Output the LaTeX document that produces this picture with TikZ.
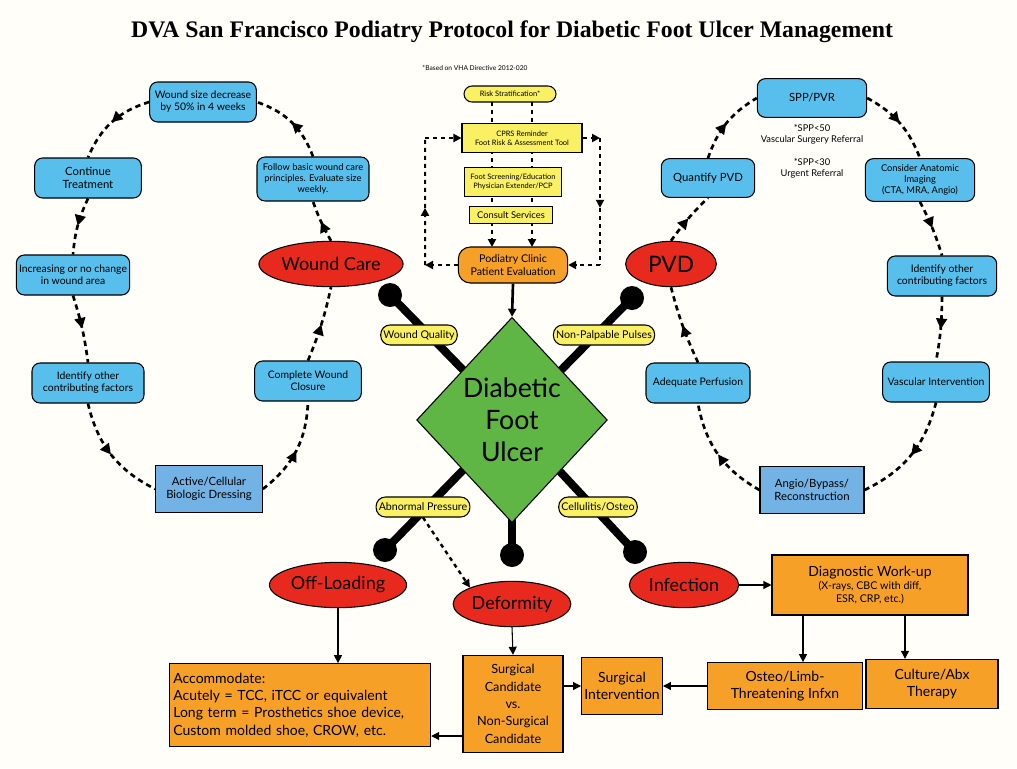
\documentclass[tikz,border=0pt]{standalone}
\usepackage{fontspec}
\setmainfont{Lato}
\newfontfamily\ttl{Liberation Serif}
\usetikzlibrary{shapes.geometric,arrows.meta,decorations.markings,calc}
\definecolor{bg}{RGB}{255,254,248}
\definecolor{sky}{RGB}{88,190,235}
\definecolor{sky2}{RGB}{115,178,228}
\definecolor{yel}{RGB}{250,240,100}
\definecolor{org}{RGB}{247,160,40}
\definecolor{rd}{RGB}{232,42,30}
\definecolor{grn}{RGB}{96,182,68}
\begin{document}
\begin{tikzpicture}[x=0.75pt,y=-0.75pt,
 blue/.style={draw,thick,fill=sky,rounded corners=6pt,align=center,font=\fontsize{7.8}{9}\selectfont,inner sep=2pt},
 bluer/.style={draw,thick,fill=sky2,align=center,font=\fontsize{8.5}{10}\selectfont,inner sep=2pt},
 yb/.style={draw,thick,fill=yel,align=center,font=\fontsize{5.6}{7}\selectfont,inner sep=1.5pt},
 ylab/.style={draw,thick,fill=yel,rounded corners=7pt,font=\fontsize{8}{9}\selectfont,minimum height=15pt,inner sep=2pt},
 redel/.style={draw,thick,fill=rd,ellipse,font=\fontsize{13.5}{15}\selectfont,minimum height=34pt,inner sep=1pt},
 ob/.style={draw,thick,fill=org,align=center,font=\fontsize{10.5}{13}\selectfont,inner sep=2pt},
 darr/.style={line width=2pt,dash pattern=on 4pt off 3pt,decoration={markings,mark=at position 0.5 with {\arrow[solid]{Triangle[length=8pt,width=8pt]}}},postaction={decorate}},
 sarr/.style={thick,-{Triangle[length=6pt,width=6pt]}},
 lol/.style={line width=6pt},
 dl/.style={line width=1.5pt,dash pattern=on 3pt off 3pt},
 dla/.style={dl,-{Triangle[length=6pt,width=6pt]}}]
\fill[bg] (0,0) rectangle (1017,768);
\useasboundingbox (0,0) rectangle (1017,768);
\node[font=\ttl\bfseries\fontsize{17.8}{20}\selectfont] (title) at (512,32) {DVA San Francisco Podiatry Protocol for Diabetic Foot Ulcer Management};
\node[font=\fontsize{5}{6}\selectfont] (vha) at (475,68) {*Based on VHA Directive 2012-020};
% top flow
\coordinate (a1) at (492,102); \coordinate (a2) at (492,247);
\coordinate (b1) at (532,102); \coordinate (b2) at (532,247);
\draw[dla] (a1) -- (a2);
\draw[dla] (b1) -- (b2);
\node[yb,rounded corners=6pt,minimum width=69pt,minimum height=12pt] (risk) at (510,94) {Risk Stratification*};
\node[yb,minimum width=90pt,minimum height=22pt] (cprs) at (522,138) {CPRS Reminder\\Foot Risk \& Assessment Tool};
\node[yb,minimum width=73pt,minimum height=22pt] (fs) at (513,182) {Foot Screening/Education\\Physician Extender/PCP};
\node[yb,minimum width=62pt,minimum height=13pt,font=\fontsize{7}{8}\selectfont] (cons) at (511,215) {Consult Services};
\node[draw,thick,fill=org,rounded corners=9pt,minimum width=82pt,minimum height=27pt,align=center,font=\fontsize{8}{9.5}\selectfont,inner sep=1pt] (pod) at (513,265) {Podiatry Clinic\\Patient Evaluation};
\coordinate (l1) at (425,265); \coordinate (l2) at (425,138);
\coordinate (r1) at (600,138); \coordinate (r2) at (600,265);
\draw[dla] (pod.west) -- (l1);
\draw[dla] (l1) -- ($(l1)!0.45!(l2)$) ;
\draw[dl] ($(l1)!0.45!(l2)$) -- (l2);
\draw[dla] (l2) -- (cprs.west);
\draw[dla] (cprs.east) -- (r1);
\draw[dla] (r1) -- ($(r1)!0.55!(r2)$);
\draw[dl] ($(r1)!0.55!(r2)$) -- (r2);
\draw[dla] (r2) -- (pod.east);
% lollipops
\coordinate (dc) at (512,420);
\draw[lol] (390,295) -- (dc); \fill (390,295) circle (12);
\draw[lol] (632,298) -- (dc); \fill (632,298) circle (12);
\draw[lol] (385,550) -- (dc); \fill (385,550) circle (12);
\draw[lol] (635,552) -- (dc); \fill (635,552) circle (12);
\draw[lol] (512,555) -- (dc); \fill (512,555) circle (12);
\node[draw,thick,fill=grn,diamond,minimum width=143pt,minimum height=154pt,align=center,font=\fontsize{20}{24}\selectfont,inner sep=0pt] (dfu) at (dc) {Diabetic\\Foot\\Ulcer};
\draw[sarr,line width=2pt] (pod.south) -- (dfu.north);
\node[ylab] (wq) at (419,335) {Wound Quality};
\node[ylab] (np) at (604,335) {Non-Palpable Pulses};
\node[ylab] (ap) at (423,507) {Abnormal Pressure};
\node[ylab] (co) at (598,507) {Cellulitis/Osteo};
% red ellipses
\node[redel,minimum width=82pt] (wc) at (331,264) {Wound Care};
\node[redel,minimum width=68pt,font=\fontsize{17}{19}\selectfont] (pvd) at (671,264) {PVD};
\node[redel,minimum width=84pt] (off) at (338,585) {Off-Loading};
\node[redel,minimum width=80pt] (def) at (512,604) {Deformity};
\node[redel,minimum width=82pt] (inf) at (684,585) {Infection};
% left loop
\node[blue,minimum width=80pt,minimum height=30pt] (ws) at (203,102) {Wound size decrease\\by 50\% in 4 weeks};
\node[blue,minimum width=80pt,minimum height=30pt,font=\fontsize{8.5}{10}\selectfont] (ct) at (88,178) {Continue\\Treatment};
\node[blue,minimum width=84pt,minimum height=33pt,font=\fontsize{7}{8.5}\selectfont] (fb) at (313,179) {Follow basic wound care\\principles. Evaluate size\\weekly.};
\node[blue,minimum width=84pt,minimum height=30pt] (inc) at (73,275) {Increasing or no change\\in wound area};
\node[blue,minimum width=84pt,minimum height=30pt] (id1) at (88,383) {Identify other\\contributing factors};
\node[blue,minimum width=80pt,minimum height=30pt] (cw) at (308,381) {Complete Wound\\Closure};
\node[bluer,minimum width=80pt,minimum height=35pt] (ab) at (209,489) {Active/Cellular\\Biologic Dressing};
\draw[darr] (wc.north) to[bend left=5] (fb.south);
\draw[darr] (fb.north) to[bend right=25] (ws.east);
\draw[darr] (ws.west) to[bend right=25] (ct.north);
\draw[darr] (ct.south) to[bend right=10] (inc.north);
\draw[darr] (inc.south) to[bend left=5] (id1.north);
\draw[darr] (id1.south) to[bend right=25] (ab.west);
\draw[darr] (ab.east) to[bend right=25] (cw.south);
\draw[darr] (cw.north) to[bend right=5] (wc.south);
% right loop
\node[blue,minimum width=70pt,minimum height=29pt,font=\fontsize{8.5}{10}\selectfont] (qp) at (708,178) {Quantify PVD};
\node[blue,minimum width=82pt,minimum height=29pt,font=\fontsize{8.5}{10}\selectfont] (spp) at (812,98) {SPP/PVR};
\node[font=\fontsize{7}{8.5}\selectfont,align=center] (n1) at (812,134) {*SPP<50\\Vascular Surgery Referral};
\node[font=\fontsize{7}{8.5}\selectfont,align=center] (n2) at (812,168) {*SPP<30\\Urgent Referral};
\node[blue,minimum width=82pt,minimum height=32pt,font=\fontsize{7}{8.5}\selectfont] (ca) at (920,180) {Consider Anatomic\\Imaging\\(CTA, MRA, Angio)};
\node[blue,minimum width=82pt,minimum height=30pt] (id2) at (942,276) {Identify other\\contributing factors};
\node[blue,minimum width=80pt,minimum height=30pt] (vi) at (936,382) {Vascular Intervention};
\node[bluer,minimum width=78pt,minimum height=35pt] (ang) at (812,490) {Angio/Bypass/\\Reconstruction};
\node[blue,minimum width=78pt,minimum height=30pt] (adq) at (698,383) {Adequate Perfusion};
\draw[darr] (pvd.north) to[bend left=5] (qp.south);
\draw[darr] (qp.north) to[bend left=20] (spp.west);
\draw[darr] (spp.east) to[bend left=20] (ca.north);
\draw[darr] (ca.south) to[bend left=5] (id2.north);
\draw[darr] (id2.south) to[bend left=5] (vi.north);
\draw[darr] (vi.south) to[bend left=25] (ang.east);
\draw[darr] (ang.west) to[bend left=25] (adq.south);
\draw[darr] (adq.north) to[bend left=5] (pvd.south);
% bottom
\draw[dla,line width=1.8pt] (ap.south) -- (def.north west);
\node[ob,align=left,minimum width=196pt,minimum height=62pt,text width=190pt] (acc) at (300,705) {Accommodate:\\Acutely = TCC, iTCC or equivalent\\Long term = Prosthetics shoe device,\\Custom molded shoe, CROW, etc.};
\node[ob,minimum width=75pt,minimum height=73pt,font=\fontsize{9.5}{13}\selectfont] (sc) at (513,704) {Surgical\\Candidate\\vs.\\Non-Surgical\\Candidate};
\node[ob,minimum width=55pt,minimum height=43pt] (si) at (622,686) {Surgical\\Intervention};
\node[ob,minimum width=147pt,minimum height=45pt] (dw) at (870,585) {Diagnostic Work-up\\[-3pt]{\fontsize{8}{10}\selectfont (X-rays, CBC with diff,}\\[-3pt]{\fontsize{8}{10}\selectfont ESR, CRP, etc.)}};
\node[ob,minimum width=116pt,minimum height=35pt] (ol) at (785,686) {Osteo/Limb-\\Threatening Infxn};
\node[ob,minimum width=99pt,minimum height=37pt] (cu) at (932,684) {Culture/Abx\\Therapy};
\draw[sarr] (off.south) -- (off.south |- acc.north);
\draw[sarr] (def.south) -- (sc.north);
\draw[sarr] (sc.east |- si) -- (si.west);
\draw[sarr] (sc.west |- 0,736) -- (acc.east |- 0,736);
\draw[sarr] (inf.east) -- (dw.west);
\draw[sarr] (dw.south -| 803,0) -- (ol.north -| 803,0);
\draw[sarr] (dw.south -| 905,0) -- (cu.north -| 905,0);
\draw[sarr] (ol.west) -- (si.east |- ol);
\end{tikzpicture}
\end{document}
